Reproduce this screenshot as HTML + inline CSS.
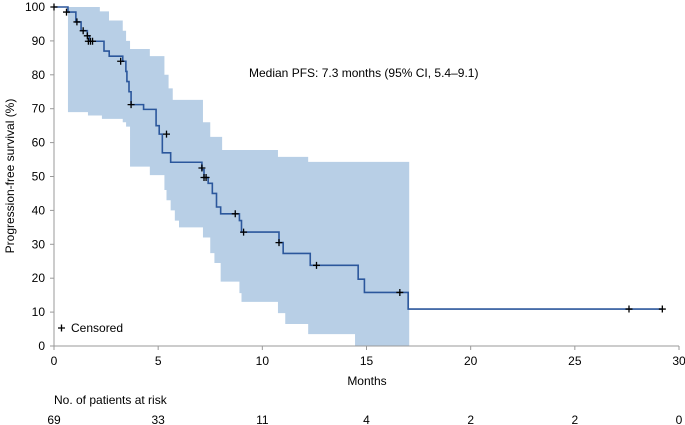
<!DOCTYPE html>
<html><head><meta charset="utf-8"><style>
body{margin:0;background:#fff;width:685px;height:425px;overflow:hidden}
svg{display:block;font-family:"Liberation Sans",sans-serif}
</style></head><body>
<svg id="c" width="685" height="425">
<text x="249" y="77" font-size="12" fill="#000">Median PFS: 7.3 months (95% CI, 5.4–9.1)</text>
<text x="14" y="176" font-size="12" fill="#000" text-anchor="middle" transform="rotate(-90 14 176)">Progression-free survival (%)</text>
<text x="367" y="385" font-size="12" fill="#000" text-anchor="middle">Months</text>
<text x="54" y="404" font-size="12" fill="#000">No. of patients at risk</text>
<g>
<text x="71" y="332" font-size="12" fill="#000">Censored</text>
</g>
</svg>
<script>
const survT=[0,0.67,1.05,1.3,1.6,1.7,2.4,2.65,3.3,3.45,3.5,3.6,3.7,4.3,4.9,5.05,5.2,5.6,7.1,7.2,7.4,7.6,7.8,8.0,8.9,9.0,10.8,11.0,12.3,14.6,14.9,17.0];
const survS=[100,98.5,95.6,93,91.5,89.9,87,85.5,84,81,78,75,71.2,69.8,65,62.5,57,54.2,52,49.7,48,45,41,39,37,33.6,30.5,27.3,23.8,19.7,15.8,10.9];
const survEnd=29.2;
const upT=[0,2.2,2.64,3.3,3.46,3.65,4.6,5.3,5.5,5.7,7.15,7.5,8.07,10.75,12.2];
const upS=[100,98.7,96,93,90,87.6,85.5,80,76,72.6,66,61.7,57.8,55.8,54.3];
const loT=[0.67,1.63,2.3,3.3,3.46,3.65,4.6,5.3,5.4,5.6,5.8,6.0,7.15,7.5,7.7,8.0,8.9,9.0,10.75,11.1,12.2,14.45];
const loS=[69,68,67,66,64.7,52.9,50.4,46,43,40,37,35,32,27.4,24.5,19,15.6,13,9.7,6.5,3.5,0];
const ciEnd=17.05;
const censT=[0,0.6,1.1,1.4,1.6,1.65,1.75,1.85,3.2,3.7,5.4,7.1,7.2,7.3,8.7,9.1,10.8,12.6,16.6,27.6,29.2];
const censS=[100,98.5,95.6,93,91.5,89.9,89.9,89.9,84,71.2,62.5,52.5,49.7,49.7,39,33.6,30.5,23.8,15.8,10.9,10.9];
const xTicks=[0,5,10,15,20,25,30];
const yTicks=[0,10,20,30,40,50,60,70,80,90,100];
const riskT=[0,5,10,15,20,25,30];
const riskN=[69,33,11,4,2,2,0];
const X=t=>54+t*625/30, Y=s=>346-s*339/100;
const svg=document.getElementById('c'),NS='http://www.w3.org/2000/svg';
function mk(tag,attrs,parent){const e=document.createElementNS(NS,tag);for(const k in attrs)e.setAttribute(k,attrs[k]);(parent||svg).appendChild(e);return e;}
function step(T,S,end){let d='M'+X(T[0])+','+Y(S[0]);for(let i=1;i<T.length;i++){d+='H'+X(T[i])+'V'+Y(S[i]);}d+='H'+X(end);return d;}
// CI band
let pts=[];
for(let i=0;i<upT.length;i++){const nx=i+1<upT.length?upT[i+1]:ciEnd;pts.push([X(upT[i]),Y(upS[i])],[X(nx),Y(upS[i])]);}
for(let i=loT.length-1;i>=0;i--){const nx=i+1<loT.length?loT[i+1]:ciEnd;pts.push([X(nx),Y(loS[i])],[X(loT[i]),Y(loS[i])]);}
pts.push([X(loT[0]),Y(100)]);
const band=mk('polygon',{points:pts.map(p=>p.join(',')).join(' '),fill:'#b8cfe6'});


svg.insertBefore(band,svg.firstChild);
// axes
const ax=mk('g',{});


mk('line',{x1:54,y1:7,x2:54,y2:346,stroke:'#999','stroke-width':1},ax);
mk('line',{x1:54,y1:346,x2:679,y2:346,stroke:'#999','stroke-width':1},ax);
yTicks.forEach(v=>{mk('line',{x1:50,y1:Y(v),x2:54,y2:Y(v),stroke:'#999'},ax);const t=mk('text',{x:45,y:Y(v)+4,'font-size':12,'text-anchor':'end'},ax);t.textContent=v;

});
xTicks.forEach(v=>{mk('line',{x1:X(v),y1:346,x2:X(v),y2:350,stroke:'#999'},ax);const t=mk('text',{x:X(v),y:365,'font-size':12,'text-anchor':'middle'},ax);t.textContent=v;

});
riskN.forEach((n,i)=>{const t=mk('text',{x:X(riskT[i]),y:424,'font-size':12,'text-anchor':'middle'});t.textContent=n;

});
// curve
const curve=mk('path',{d:step(survT,survS,survEnd),fill:'none',stroke:'#2b579c','stroke-width':1.6});


censT.forEach((t,i)=>{const g=mk('path',{d:`M${X(t)-3.5},${Y(censS[i])}h7M${X(t)},${Y(censS[i])-3.5}v7`,stroke:'#000','stroke-width':1.3});

});
const lg=mk('path',{d:'M58,328h7M61.5,324.5v7',stroke:'#000','stroke-width':1.3});


</script>
</body></html>
